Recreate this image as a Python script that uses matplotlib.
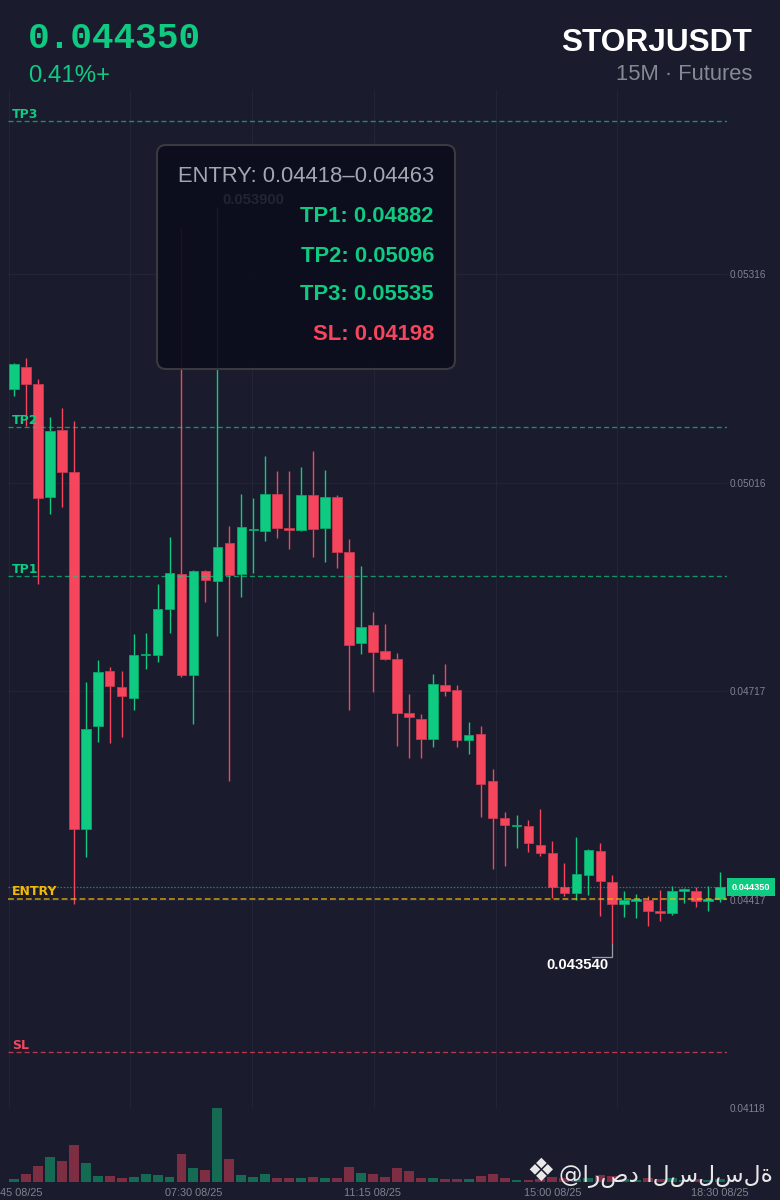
import matplotlib
matplotlib.use("Agg")
import matplotlib.pyplot as plt
from matplotlib.patches import FancyBboxPatch
import numpy as np

# ---------------- data ----------------
SYMBOL = "STORJUSDT"
SUBTITLE = "15M · Futures"
LAST_PRICE = 0.044350
CHANGE_TEXT = "0.41%+"

OPEN = [0.05150, 0.05182, 0.05158, 0.04995, 0.05092, 0.05031, 0.04518, 0.04667, 0.04746, 0.04722,
        0.04707, 0.04768, 0.04769, 0.04834, 0.04885, 0.04740, 0.04889, 0.04875, 0.04930, 0.04885,
        0.04948, 0.04947, 0.05000, 0.04951, 0.04948, 0.04998, 0.04951, 0.04996, 0.04916, 0.04786,
        0.04811, 0.04775, 0.04763, 0.04685, 0.04676, 0.04648, 0.04726, 0.04718, 0.04647, 0.04655,
        0.04587, 0.04534, 0.04523, 0.04523, 0.04495, 0.04484, 0.04435, 0.04427, 0.04452, 0.04487,
        0.04443, 0.04411, 0.04416, 0.04417, 0.04401, 0.04398, 0.04430, 0.04429, 0.04416, 0.04418]
HIGH = [0.05188, 0.05195, 0.05165, 0.05111, 0.05124, 0.05105, 0.04730, 0.04762, 0.04752, 0.04746,
        0.04799, 0.04800, 0.04870, 0.04938, 0.05382, 0.04891, 0.04890, 0.05390, 0.04954, 0.05000,
        0.04994, 0.05055, 0.05033, 0.05033, 0.05038, 0.05062, 0.05034, 0.04999, 0.04935, 0.04897,
        0.04830, 0.04813, 0.04772, 0.04713, 0.04684, 0.04741, 0.04756, 0.04726, 0.04672, 0.04666,
        0.04605, 0.04543, 0.04539, 0.04532, 0.04548, 0.04502, 0.04470, 0.04507, 0.04490, 0.04498,
        0.04453, 0.04429, 0.04426, 0.04422, 0.04431, 0.04437, 0.04434, 0.04436, 0.04437, 0.04457]
LOW = [0.05141, 0.05097, 0.04871, 0.04971, 0.04981, 0.04411, 0.04479, 0.04644, 0.04642, 0.04651,
       0.04689, 0.04748, 0.04759, 0.04800, 0.04737, 0.04670, 0.04845, 0.04796, 0.04587, 0.04852,
       0.04887, 0.04932, 0.04937, 0.04921, 0.04946, 0.04909, 0.04902, 0.04894, 0.04689, 0.04770,
       0.04716, 0.04761, 0.04638, 0.04621, 0.04621, 0.04636, 0.04709, 0.04636, 0.04627, 0.04536,
       0.04461, 0.04465, 0.04491, 0.04486, 0.04480, 0.04420, 0.04422, 0.04417, 0.04424, 0.04394,
       0.04354, 0.04393, 0.04391, 0.04379, 0.04386, 0.04395, 0.04412, 0.04406, 0.04401, 0.04414]
CLOSE = [0.05186, 0.05158, 0.04994, 0.05090, 0.05031, 0.04518, 0.04662, 0.04744, 0.04724, 0.04709,
         0.04768, 0.04770, 0.04834, 0.04886, 0.04740, 0.04889, 0.04876, 0.04923, 0.04884, 0.04953,
         0.04949, 0.05000, 0.04951, 0.04948, 0.04999, 0.04949, 0.04995, 0.04917, 0.04783, 0.04809,
         0.04773, 0.04763, 0.04685, 0.04679, 0.04648, 0.04727, 0.04717, 0.04647, 0.04654, 0.04584,
         0.04534, 0.04525, 0.04525, 0.04498, 0.04484, 0.04435, 0.04427, 0.04454, 0.04488, 0.04444,
         0.04411, 0.04417, 0.04417, 0.04401, 0.04398, 0.04429, 0.04430, 0.04416, 0.04417, 0.04435]
VOLUME = [3.3, 8.0, 16.3, 24.7, 21.0, 36.7, 19.3, 5.7, 6.3, 3.7,
          4.7, 7.7, 7.3, 4.7, 27.7, 13.7, 12.3, 74.0, 23.0, 7.0,
          5.0, 8.3, 4.3, 3.7, 3.7, 5.0, 3.7, 3.7, 14.7, 8.7,
          7.7, 5.0, 14.0, 11.0, 3.7, 3.7, 2.7, 3.0, 2.7, 5.7,
          7.7, 4.3, 2.3, 2.3, 3.3, 5.0, 4.0, 3.3, 4.0, 6.7,
          6.0, 3.0, 2.5, 4.0, 3.0, 4.0, 2.0, 3.0, 2.0, 3.0]

TIME_TICK_IDX = [0, 15, 30, 45, 59]
TIME_TICK_LABELS = ["03:45 08/25", "07:30 08/25", "11:15 08/25", "15:00 08/25", "18:30 08/25"]
PRICE_TICKS = [0.05316, 0.05016, 0.04717, 0.04417, 0.04118]
GRID_X = [-0.42, 9.67, 19.92, 30.08, 40.25, 50.42]

LEVEL_NAMES = ["TP3", "TP2", "TP1", "ENTRY", "SL"]
LEVEL_VALUES = [0.05535, 0.05096, 0.04882, 0.04418, 0.04198]
ENTRY_LOW, ENTRY_HIGH = 0.04418, 0.04463
TP_VALUES = [0.04882, 0.05096, 0.05535]
SL_VALUE = 0.04198
HIGH_LABEL = "0.053900"
LOW_LABEL = "0.043540"

# ---------------- style ----------------
BG = "#1a1b2d"
GREEN = "#0ECB81"
RED = "#F6465D"
YELLOW = "#F0B90B"
GRID = "#232437"
AXIS_TXT = "#80838f"

W, H = 780, 1200
fig = plt.figure(figsize=(W / 100, H / 100), dpi=100)
fig.patch.set_facecolor(BG)

def px_rect(x0, y0, x1, y1):
    return [x0 / W, 1 - y1 / H, (x1 - x0) / W, (y1 - y0) / H]

ax = fig.add_axes(px_rect(8, 90, 727, 1108))
axv = fig.add_axes(px_rect(8, 1108, 727, 1182))
for a in (ax, axv):
    a.set_facecolor("none")
    for s in a.spines.values():
        s.set_visible(False)

n = len(OPEN)
x = np.arange(n)
o = np.array(OPEN); h = np.array(HIGH); l = np.array(LOW); c = np.array(CLOSE)
up = c >= o
cols = np.where(up, GREEN, RED)
edge = np.where(up, "#0aa86b", "#c93a4f")

ax.set_xlim(-0.5, 59.59)
axv.set_xlim(-0.5, 59.59)
ax.set_ylim(0.04118, 0.05580)
axv.set_ylim(0, max(VOLUME))

# grid
ax.set_xticks(GRID_X)
ax.set_yticks(PRICE_TICKS)
ax.grid(True, color=GRID, lw=0.8, zorder=0)
ax.tick_params(axis="x", length=0, labelbottom=False)
ax.yaxis.tick_right()
ax.tick_params(axis="y", length=0, pad=2.2, labelsize=7.2, labelcolor=AXIS_TXT)
ax.set_yticklabels([f"{v:.5f}" for v in PRICE_TICKS], family="Liberation Sans")

# candles
ax.vlines(x, l, h, colors=cols, lw=1.0, zorder=3)
body_h = np.maximum(np.abs(c - o), 0.000018)
ax.bar(x, body_h, bottom=np.minimum(o, c), width=0.8, color=cols,
       edgecolor=edge, linewidth=0.6, zorder=4)

# volume
axv.bar(x, VOLUME, width=0.83, color=cols, alpha=0.45, linewidth=0, zorder=2)
axv.set_yticks([])
axv.set_xticks(TIME_TICK_IDX)
axv.set_xticklabels(TIME_TICK_LABELS, family="Liberation Sans")
axv.tick_params(axis="x", length=0, pad=4.5, labelsize=7.8, labelcolor=AXIS_TXT)

# level lines
level_colors = [GREEN, GREEN, GREEN, YELLOW, RED]
for name, val, col in zip(LEVEL_NAMES, LEVEL_VALUES, level_colors):
    if name == "ENTRY":
        ax.axhline(val, color=col, alpha=0.65, lw=1.4, ls=(0, (3.0, 1.6)), zorder=5)
        off = 4
    else:
        ax.axhline(val, color=col, alpha=0.7, lw=0.95, ls=(0, (3.8, 2.3)), zorder=5)
        off = 3
    ax.annotate(name, xy=(0.0056, val), xycoords=("axes fraction", "data"),
                xytext=(0, off), textcoords="offset pixels", ha="left", va="baseline",
                color=col, fontsize=9, fontweight="bold", family="DejaVu Sans", zorder=6)

# current price line + tag
ax.axhline(LAST_PRICE, color=GREEN, alpha=0.6, lw=0.9, ls=(0, (1.3, 1.3)), zorder=5)
ax.annotate(f"{LAST_PRICE:.6f}", xy=(1, LAST_PRICE), xycoords=("axes fraction", "data"),
            xytext=(5, 0), textcoords="offset pixels", ha="left", va="center",
            color="white", fontsize=6.6, fontweight="bold", family="Liberation Sans",
            bbox=dict(boxstyle="square,pad=0.5", fc=GREEN, ec="none"), zorder=8,
            annotation_clip=False)

# high / low markers
ih = int(np.argmax(h)); il = int(np.argmin(l))

def shift(xd, yd, dx, dy):
    X, Y = ax.transData.transform((xd, yd))
    return ax.transData.inverted().transform((X + dx, Y + dy))

p1 = shift(ih, h[ih], 0, 14)
ax.plot([ih, p1[0]], [h[ih], p1[1]], color="#9a9ca5", lw=0.9, zorder=6)
ax.annotate(HIGH_LABEL, xy=(ih, h[ih]), xytext=(5, 22), textcoords="offset pixels",
            ha="left", va="center", color="white", fontsize=10.7, fontweight="bold",
            family="Liberation Sans", zorder=6)
q1 = shift(il, l[il], 0, -13); q2 = shift(il, l[il], -20, -13)
ax.plot([il, q1[0], q2[0]], [l[il], q1[1], q2[1]], color="#9a9ca5", lw=0.9, zorder=6)
ax.annotate(LOW_LABEL, xy=(il, l[il]), xytext=(-4, -21), textcoords="offset pixels",
            ha="right", va="center", color="white", fontsize=10.7, fontweight="bold",
            family="Liberation Sans", zorder=6)

# ---------------- overlay (pixel coords) ----------------
ov = fig.add_axes([0, 0, 1, 1], zorder=10)
ov.set_xlim(0, W); ov.set_ylim(H, 0); ov.axis("off")
ov.patch.set_alpha(0)

ov.text(28, 48, f"{LAST_PRICE:.6f}", color=GREEN, fontsize=26, fontweight="bold",
        family="Liberation Mono", ha="left", va="baseline")
ov.text(28, 82, CHANGE_TEXT, color=GREEN, fontsize=17.3, family="Liberation Sans",
        ha="left", va="baseline")
ov.text(752, 51, SYMBOL, color="white", fontsize=22.8, fontweight="bold",
        family="Liberation Sans", ha="right", va="baseline")
ov.text(752, 80, SUBTITLE, color="#868995", fontsize=15.8, family="Liberation Sans",
        ha="right", va="baseline")

box = FancyBboxPatch((157, 145), 298, 224, boxstyle="round,pad=0,rounding_size=9",
                     fc=(0.043, 0.047, 0.11, 0.9), ec="#3a3a3e", lw=1.5)
ov.add_patch(box)
lines = [(f"ENTRY: {ENTRY_LOW:.5f}–{ENTRY_HIGH:.5f}", "#a4a7b1", "normal"),
         (f"TP1: {TP_VALUES[0]:.5f}", GREEN, "bold"),
         (f"TP2: {TP_VALUES[1]:.5f}", GREEN, "bold"),
         (f"TP3: {TP_VALUES[2]:.5f}", GREEN, "bold"),
         (f"SL: {SL_VALUE:.5f}", RED, "bold")]
for (txt, col, wt), yb in zip(lines, [182, 222, 262, 300, 340]):
    ov.text(434, yb, txt, color=col, fontsize=15.8, fontweight=wt,
            family="Liberation Sans", ha="right", va="baseline")

# watermark
ov.text(541, 1172, "❖", color="#e8e8e8", fontsize=23, family="DejaVu Sans",
        ha="center", va="center")
ov.text(559, 1182, "@ارصد السلسلة", color="#e8e8e8", fontsize=16.8,
        family="DejaVu Sans", ha="left", va="baseline")

fig.savefig("out.png", dpi=100, facecolor=BG)
